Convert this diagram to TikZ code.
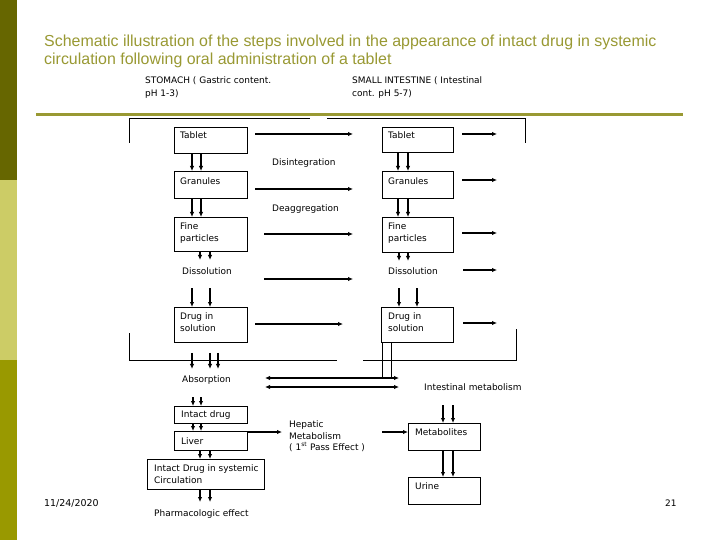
\documentclass[tikz,border=0pt]{standalone}
\usepackage{fontspec}
\setmainfont{DejaVu Sans}
\newfontfamily\titlefont{Liberation Sans}
\usetikzlibrary{arrows.meta}
\definecolor{olivedark}{HTML}{666600}
\definecolor{olivelight}{HTML}{CCCC66}
\definecolor{olivemid}{HTML}{999900}
\definecolor{titlecol}{HTML}{999933}
\begin{document}
\begin{tikzpicture}[x=1bp,y=-1bp,
  box/.style={draw, line width=0.9bp, anchor=north west, inner sep=0pt},
  txt/.style={anchor=base west, inner sep=0pt, font=\fontsize{9}{10}\selectfont},
  ttl/.style={anchor=base west, inner sep=0pt, text=titlecol, font=\titlefont\fontsize{16}{18}\selectfont},
  thk/.style={line width=1.8bp, -{Latex[length=5bp,width=4.5bp]}},
  dbl/.style={line width=1.8bp, {Latex[length=5bp,width=4.5bp]}-{Latex[length=5bp,width=4.5bp]}},
  thn/.style={line width=0.9bp}]
\useasboundingbox[fill=white] (0,0) rectangle (720,540);
% side bar and rule
\fill[olivedark] (0,0) rectangle (17,180);
\fill[olivelight] (0,180) rectangle (17,360);
\fill[olivemid] (0,360) rectangle (17,540);
\draw[line width=3bp, titlecol] (36,115) -- (683,115);
% title
\node[ttl] (t1) at (44,46.5) {Schematic illustration of the steps involved in the appearance of intact drug in systemic};
\node[ttl] (t2) at (44,64.5) {circulation following oral administration of a tablet};
% headers
\node[txt] (h1a) at (145,84) {STOMACH ( Gastric content.};
\node[txt] (h1b) at (145,97) {pH 1-3)};
\node[txt] (h2a) at (352,84) {SMALL INTESTINE ( Intestinal};
\node[txt] (h2b) at (352,97) {cont. pH 5-7)};
% brackets
\draw[thn] (129,143) -- (129,118) -- (310,118);
\draw[thn] (327,118) -- (525,118) -- (525,143);
\draw[thn] (129,333) -- (129,360) -- (337,360);
\draw[thn] (363,360) -- (516,360) -- (516,329);
% stomach column
\node[box, minimum width=73bp, minimum height=26bp] (tabS) at (174,127) {};
\node[txt] at (180,138.5) {Tablet};
\node[box, minimum width=73bp, minimum height=27bp] (graS) at (174,171) {};
\node[txt] at (180,184.5) {Granules};
\node[box, minimum width=73bp, minimum height=34bp] (finS) at (174,217) {};
\node[txt] at (180,229.5) {Fine};
\node[txt] at (180,241.5) {particles};
\node[txt] (dsS) at (182,274.5) {Dissolution};
\node[box, minimum width=73bp, minimum height=35bp] (drgS) at (174,307) {};
\node[txt] at (180,319.5) {Drug in};
\node[txt] at (180,331.5) {solution};
\node[txt] (absS) at (182,382.5) {Absorption};
\node[box, minimum width=73bp, minimum height=17bp] (intd) at (174,406) {};
\node[txt] at (181,417.5) {Intact drug};
\node[box, minimum width=73bp, minimum height=19bp] (liv) at (174,431) {};
\node[txt] at (181,444.5) {Liver};
\node[box, minimum width=117bp, minimum height=30bp] (sys) at (147,459) {};
\node[txt] at (154,471.5) {Intact Drug in systemic};
\node[txt] at (154,483.5) {Circulation};
\node[txt] (pha) at (154,516.5) {Pharmacologic effect};
% intestine column
\node[box, minimum width=71bp, minimum height=25bp] (tabI) at (382,127) {};
\node[txt] at (388,138.5) {Tablet};
\node[box, minimum width=71bp, minimum height=27bp] (graI) at (382,171) {};
\node[txt] at (388,184.5) {Granules};
\node[box, minimum width=71bp, minimum height=35bp] (finI) at (382,217) {};
\node[txt] at (388,229.5) {Fine};
\node[txt] at (388,241.5) {particles};
\node[txt] (dsI) at (388,274.5) {Dissolution};
\node[box, minimum width=72bp, minimum height=35bp] (drgI) at (381,307) {};
\node[txt] at (388,319.5) {Drug in};
\node[txt] at (388,331.5) {solution};
\node[txt] (imet) at (424,390.5) {Intestinal metabolism};
\node[box, minimum width=72bp, minimum height=27bp] (met) at (408,423) {};
\node[txt] at (415,435.5) {Metabolites};
\node[box, minimum width=72bp, minimum height=27bp] (uri) at (408,477) {};
\node[txt] at (415,489.5) {Urine};
% middle labels
\node[txt] (dis) at (272,165.5) {Disintegration};
\node[txt] (dea) at (272,211.5) {Deaggregation};
\node[txt] (hep1) at (289,427.5) {Hepatic};
\node[txt] (hep2) at (289,439) {Metabolism};
\node[txt] (hep3) at (289,450.5) {( 1\textsuperscript{st} Pass Effect )};
% footer
\node[anchor=base west, inner sep=0pt, font=\fontsize{9.5}{11}\selectfont] (date) at (44,506) {11/24/2020};
\node[anchor=base west, inner sep=0pt, font=\fontsize{9}{11}\selectfont] (pg) at (665,506) {21};
% horizontal arrows (free ends)
\coordinate (a1s) at (255,134); \coordinate (a1e) at (353,134);
\coordinate (a2s) at (255,189); \coordinate (a2e) at (353,189);
\coordinate (a3s) at (264,234); \coordinate (a3e) at (353,234);
\coordinate (a4s) at (264,279); \coordinate (a4e) at (353,279);
\coordinate (a5s) at (255,324); \coordinate (a5e) at (343,324);
\coordinate (b1s) at (462,134); \coordinate (b1e) at (497,134);
\coordinate (b2s) at (462,180); \coordinate (b2e) at (497,180);
\coordinate (b3s) at (462,233); \coordinate (b3e) at (497,233);
\coordinate (b4s) at (463,270); \coordinate (b4e) at (497,270);
\coordinate (b5s) at (463,323); \coordinate (b5e) at (497,323);
\coordinate (d1s) at (265,378); \coordinate (d1e) at (399,378);
\coordinate (d2s) at (265,387); \coordinate (d2e) at (399,387);
\coordinate (hpe) at (282,432);
\coordinate (m1s) at (382,432);
\foreach \s/\e in {a1s/a1e,a2s/a2e,a3s/a3e,a4s/a4e,a5s/a5e,b1s/b1e,b2s/b2e,b3s/b3e,b4s/b4e,b5s/b5e}
  \draw[thk] (\s) -- (\e);
\draw[dbl] (d1s) -- (d1e);
\draw[dbl] (d2s) -- (d2e);
\draw[thk] (liv.east |- hpe) -- (hpe);
\draw[thk] (m1s) -- (met.west |- m1s);
% lines from intestinal drug in solution
\draw[thn] ([xshift=1bp]drgI.south west) -- ++(0,36);
\draw[thn] ([xshift=10bp]drgI.south west) -- ++(0,36);
% vertical double arrows, stomach
\foreach \dx in {18,27} {
  \draw[thk] ([xshift=\dx bp]tabS.south west) -- ([xshift=\dx bp]graS.north west);
  \draw[thk] ([xshift=\dx bp]graS.south west) -- ([xshift=\dx bp]finS.north west);
}
\foreach \dx in {26,36} \draw[thk] ([xshift=\dx bp]finS.south west) -- ++(0,8);
\foreach \dx in {18,36} \draw[thk] ([xshift=\dx bp]drgS.north west) ++(0,-19) -- ([xshift=\dx bp]drgS.north west);
\foreach \dx in {18,36,44} \draw[thk] ([xshift=\dx bp]drgS.south west) ++(0,10) -- ++(0,16);
\foreach \dx in {19,27} {
  \draw[thk] ([xshift=\dx bp]intd.north west) ++(0,-9) -- ([xshift=\dx bp]intd.north west);
  \draw[thk] ([xshift=\dx bp]intd.south west) -- ([xshift=\dx bp]liv.north west);
}
\foreach \dx in {26,36} \draw[thk] ([xshift=\dx bp]liv.south west) -- ([xshift=\dx bp]liv.south west |- sys.north);
\draw[thk] (sys.south -| 200,0) -- (200,502);
\draw[thk] (sys.south -| 210,0) -- (210,502);
% vertical double arrows, intestine
\foreach \dx in {16,26} {
  \draw[thk] ([xshift=\dx bp]tabI.south west) -- ([xshift=\dx bp]graI.north west);
  \draw[thk] ([xshift=\dx bp]graI.south west) -- ([xshift=\dx bp]finI.north west);
}
\foreach \dx in {17,26} \draw[thk] ([xshift=\dx bp]finI.south west) -- ++(0,8);
\foreach \dx in {18,36} \draw[thk] ([xshift=\dx bp]drgI.north west) ++(0,-19) -- ([xshift=\dx bp]drgI.north west);
\foreach \dx in {35,45} {
  \draw[thk] ([xshift=\dx bp]met.north west) ++(0,-18) -- ([xshift=\dx bp]met.north west);
  \draw[thk] ([xshift=\dx bp]met.south west) -- ([xshift=\dx bp]uri.north west);
}
\end{tikzpicture}
\end{document}
